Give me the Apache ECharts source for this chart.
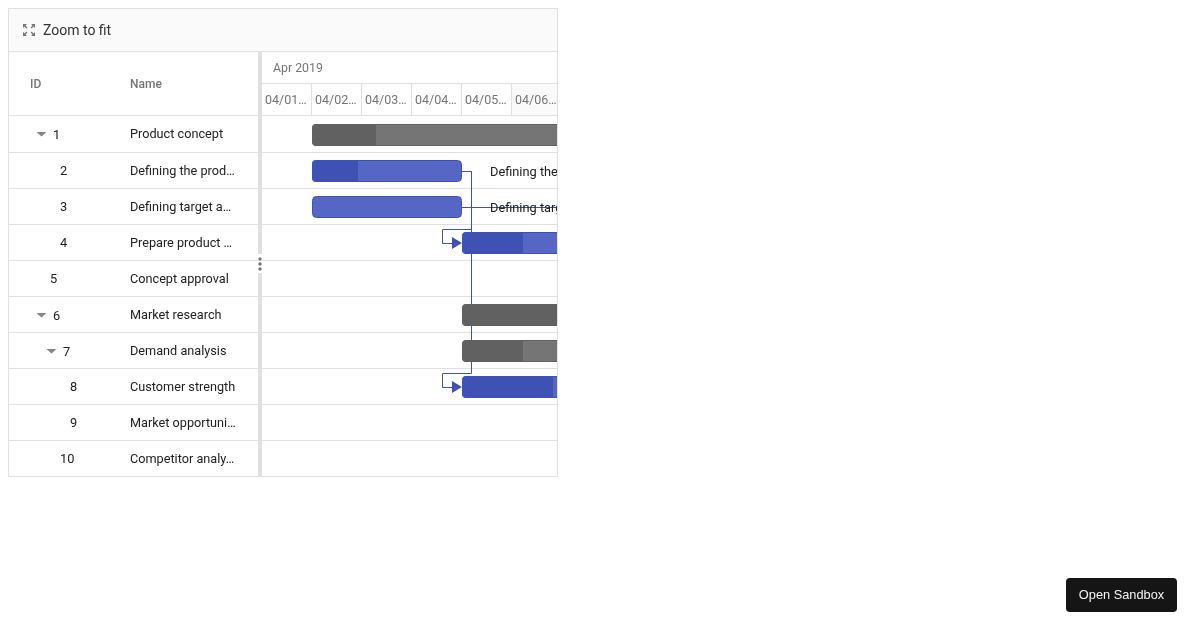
<!DOCTYPE html>
<html>
<head>
<meta charset="utf-8">
<style>
  html, body { margin: 0; padding: 0; background: #fff; }
  #main { width: 1200px; height: 630px; }
</style>
<script src="https://cdn.jsdelivr.net/npm/echarts@6/dist/echarts.min.js"></script>
</head>
<body>
<div id="main"></div>
<script>
var ids = ['1', '2', '3', '4', '5', '6', '7', '8', '9', '10'];
var names = ['Product concept', 'Defining the prod…', 'Defining target a…', 'Prepare product …', 'Concept approval',
  'Market research', 'Demand analysis', 'Customer strength', 'Market opportuni…', 'Competitor analy…'];
var depths = [0, 1, 1, 1, 0, 0, 1, 2, 2, 1];
var hasChildren = [1, 0, 0, 0, 0, 1, 1, 0, 0, 0];
var dayLabels = ['04/01…', '04/02…', '04/03…', '04/04…', '04/05…', '04/06…'];
var monthLabel = 'Apr 2019';

// days counted from 04/01, null = nothing on this row
var taskStart = [1, 1, 1, 4, 8, 4, 4, 4, null, null];
var taskEnd = [12, 4, 4, 9, 8, 14, 9, 7, null, null];
var taskDone = [2.28, 1.92, 1, 5.22, 8, 8, 5.22, 5.82, null, null];
var taskSummary = [1, 0, 0, 0, 0, 1, 1, 0, 0, 0];
var taskText = ['', 'Defining the product and usage', 'Defining target audience', '', '', '', '', '', '', ''];

// from row -> to row
var linkFrom = [1, 1, 2];
var linkTo = [3, 7, 4];

var LINE = '#e0e0e0';
var BLUE = '#3f51b5';
var BLUE_LIGHT = '#5566c4';
var GREY = '#616161';
var GREY_LIGHT = '#757575';
var FONT = 'Roboto';

var chart = echarts.init(document.getElementById('main'));

function renderId(params, api) {
  var row = api.value(0);
  var depth = api.value(1);
  var parent = api.value(2);
  var left = api.coord([0, row])[0];
  var c = api.coord([0, row])[1];
  var first = row === 0 ? 0 : 1; // first row sits a pixel higher
  var children = [{
    type: 'text',
    style: {
      text: ids[row],
      x: left + (parent ? 44 : 41) + depth * 10,
      y: c + 2 + (parent ? first : 0),
      fill: '#212121',
      font: '12.8px ' + FONT,
      verticalAlign: 'middle'
    }
  }, {
    type: 'text',
    style: {
      text: names[row],
      x: left + 121,
      y: c + 1 + first,
      fill: '#212121',
      font: '12.7px ' + FONT,
      verticalAlign: 'middle'
    }
  }];
  if (parent) {
    var ax = left + 28 + depth * 10;
    children.push({
      type: 'polygon',
      shape: { points: [[ax - 0.5, c - 2 + first], [ax + 9.5, c - 2 + first], [ax + 4.5, c + 2.5 + first]] },
      style: { fill: '#858585' }
    });
  }
  return { type: 'group', children: children };
}

function renderLink(params, api) {
  var fx = api.coord([api.value(0), api.value(1)])[0] + 1;
  var fy = api.coord([api.value(0), api.value(1)])[1] + 1.5;
  var tx = api.coord([api.value(2), api.value(3)])[0] + 1;
  var ty = api.coord([api.value(2), api.value(3)])[1] + 1.5;
  var pts;
  if (tx - fx > 30) {
    pts = [[fx, fy], [tx - 20.5, fy], [tx - 20.5, ty], [tx - 10, ty]];
  } else {
    pts = [[fx, fy], [fx + 9.5, fy], [fx + 9.5, ty - 14], [tx - 19.5, ty - 14], [tx - 19.5, ty], [tx - 10, ty]];
  }
  return {
    type: 'group',
    children: [{
      type: 'polyline',
      shape: { points: pts },
      style: { stroke: BLUE, lineWidth: 1, fill: null }
    }, {
      type: 'polygon',
      shape: { points: [[tx - 10, ty - 6.5], [tx, ty - 0.5], [tx - 10, ty + 5.5]] },
      style: { fill: BLUE }
    }]
  };
}

function renderBar(params, api) {
  var row = api.value(2);
  var x0 = api.coord([api.value(0), row])[0] + 1;
  var x1 = api.coord([api.value(1), row])[0] + 1;
  var xd = api.coord([api.value(3), row])[0] + 1;
  var c = api.coord([api.value(0), row])[1];
  var dark = taskSummary[row] ? GREY : BLUE;
  var light = taskSummary[row] ? GREY_LIGHT : BLUE_LIGHT;
  var children = [];
  if (x1 > x0) {
    children.push({
      type: 'rect',
      shape: { x: x0 + 0.5, y: c - 9.5, width: x1 - x0 - 1, height: 21, r: 4 },
      style: { fill: light, stroke: dark, lineWidth: 1 }
    });
    if (xd > x0) {
      children.push({
        type: 'rect',
        shape: { x: x0, y: c - 10, width: xd - x0, height: 22, r: [4, 0, 0, 4] },
        style: { fill: dark }
      });
    }
  }
  if (taskText[row]) {
    children.push({
      type: 'text',
      style: {
        text: taskText[row],
        x: x1 + 28,
        y: c + 3,
        fill: '#212121',
        font: '12.8px ' + FONT,
        verticalAlign: 'middle'
      }
    });
  }
  return { type: 'group', children: children };
}

// one corner of the zoom icon, mirrored for the other three
function iconCorner(flipX, flipY) {
  var pts = [[0, 0], [6, 0], [3.7, 2.3], [6.6, 5.2], [5.2, 6.6], [2.3, 3.7], [0, 6]];
  return {
    type: 'polygon',
    z: 5,
    shape: {
      points: pts.map(function (p) {
        var px = p[0] * 12 / 18;
        var py = p[1] * 12 / 18;
        return [flipX ? 35 - px : 23 + px, flipY ? 36 - py : 24 + py];
      })
    },
    style: { fill: GREY_LIGHT }
  };
}

var idRows = ids.map(function (id, i) { return [i, depths[i], hasChildren[i]]; });
var linkRows = linkFrom.map(function (f, i) {
  return [taskEnd[f], f, taskStart[linkTo[i]], linkTo[i]];
});
var barRows = [];
taskStart.forEach(function (s, i) {
  if (s !== null) barRows.push([s, taskEnd[i], i, taskDone[i]]);
});

var option = {
  backgroundColor: '#ffffff',
  animation: false,
  textStyle: { fontFamily: FONT },
  grid: [
    { left: 9, top: 116, width: 249, height: 360 },
    { left: 261, top: 116, width: 296, height: 360 }
  ],
  xAxis: [
    { gridIndex: 0, type: 'value', min: 0, max: 249, show: false },
    {
      gridIndex: 1,
      type: 'value',
      position: 'top',
      min: 0,
      max: 5.92,
      interval: 1,
      axisLine: { show: false },
      axisTick: { show: true, length: 32, lineStyle: { color: LINE } },
      splitLine: { show: false },
      axisLabel: {
        show: true,
        margin: 9,
        align: 'left',
        padding: [0, 0, 0, 4],
        color: GREY_LIGHT,
        fontFamily: FONT,
        fontSize: 12.5,
        hideOverlap: false,
        formatter: function (v) { return dayLabels[v] || ''; }
      }
    }
  ],
  yAxis: [
    {
      gridIndex: 0,
      type: 'category',
      inverse: true,
      data: names,
      axisLine: { show: false },
      axisTick: { show: false },
      axisLabel: { show: false },
      splitLine: { show: true, interval: 0, lineStyle: { color: LINE } }
    },
    {
      gridIndex: 1,
      type: 'category',
      inverse: true,
      data: names,
      axisLine: { show: false },
      axisTick: { show: false },
      axisLabel: { show: false },
      splitLine: { show: true, interval: 0, lineStyle: { color: LINE } }
    }
  ],
  series: [
    {
      type: 'custom',
      xAxisIndex: 0,
      yAxisIndex: 0,
      silent: true,
      renderItem: renderId,
      encode: { y: 0 },
      data: idRows
    },
    {
      type: 'custom',
      xAxisIndex: 1,
      yAxisIndex: 1,
      silent: true,
      clip: true,
      z: 2,
      renderItem: renderLink,
      encode: { x: [0, 2], y: [1, 3] },
      data: linkRows
    },
    {
      type: 'custom',
      xAxisIndex: 1,
      yAxisIndex: 1,
      silent: true,
      clip: true,
      z: 3,
      renderItem: renderBar,
      encode: { x: [0, 1, 3], y: 2 },
      data: barRows
    }
  ],
  graphic: [
    // toolbar and frame
    { type: 'rect', z: -1, shape: { x: 9, y: 9, width: 548, height: 42 }, style: { fill: '#fafafa' } },
    { type: 'rect', z: -1, shape: { x: 512, y: 84, width: 45, height: 31 }, style: { fill: '#fafafa' } },
    { type: 'line', z: 1, shape: { x1: 9, y1: 51.5, x2: 557, y2: 51.5 }, style: { stroke: LINE } },
    { type: 'line', z: 1, shape: { x1: 262, y1: 83.5, x2: 557, y2: 83.5 }, style: { stroke: LINE } },
    // header bottom line sits one pixel above the first row
    { type: 'line', z: 1, shape: { x1: 9, y1: 116.5, x2: 557, y2: 116.5 }, style: { stroke: '#ffffff' } },
    { type: 'line', z: 1, shape: { x1: 9, y1: 115.5, x2: 557, y2: 115.5 }, style: { stroke: LINE } },
    { type: 'rect', z: 10, shape: { x: 8.5, y: 8.5, width: 549, height: 468 }, style: { fill: null, stroke: LINE } },
    iconCorner(false, false),
    iconCorner(true, false),
    iconCorner(false, true),
    iconCorner(true, true),
    { type: 'text', z: 5, style: { text: 'Zoom to fit', x: 43, y: 31, fill: '#333333', font: '14px ' + FONT, verticalAlign: 'middle' } },
    // table header
    { type: 'text', z: 5, style: { text: 'ID', x: 30, y: 85, fill: GREY_LIGHT, font: '500 12px ' + FONT, verticalAlign: 'middle' } },
    { type: 'text', z: 5, style: { text: 'Name', x: 130, y: 85, fill: GREY_LIGHT, font: '500 12px ' + FONT, verticalAlign: 'middle' } },
    { type: 'text', z: 5, style: { text: monthLabel, x: 273, y: 69, fill: GREY_LIGHT, font: '12.3px ' + FONT, verticalAlign: 'middle' } },
    // splitter
    { type: 'rect', z: 6, shape: { x: 258, y: 52, width: 4, height: 424 }, style: { fill: LINE } },
    { type: 'rect', z: 7, shape: { x: 258, y: 254, width: 4, height: 19 }, style: { fill: '#ffffff' } },
    { type: 'circle', z: 8, shape: { cx: 260, cy: 259, r: 1.7 }, style: { fill: GREY_LIGHT } },
    { type: 'circle', z: 8, shape: { cx: 260, cy: 264, r: 1.7 }, style: { fill: GREY_LIGHT } },
    { type: 'circle', z: 8, shape: { cx: 260, cy: 269, r: 1.7 }, style: { fill: GREY_LIGHT } },
    // sandbox button
    { type: 'rect', z: 5, shape: { x: 1066, y: 578, width: 111, height: 34, r: 4 }, style: { fill: '#151515' } },
    { type: 'text', z: 6, style: { text: 'Open Sandbox', x: 1121.5, y: 595, fill: '#f5f5f5', font: '12.8px "Liberation Sans"', align: 'center', verticalAlign: 'middle' } }
  ]
};

chart.setOption(option);
</script>
</body>
</html>
